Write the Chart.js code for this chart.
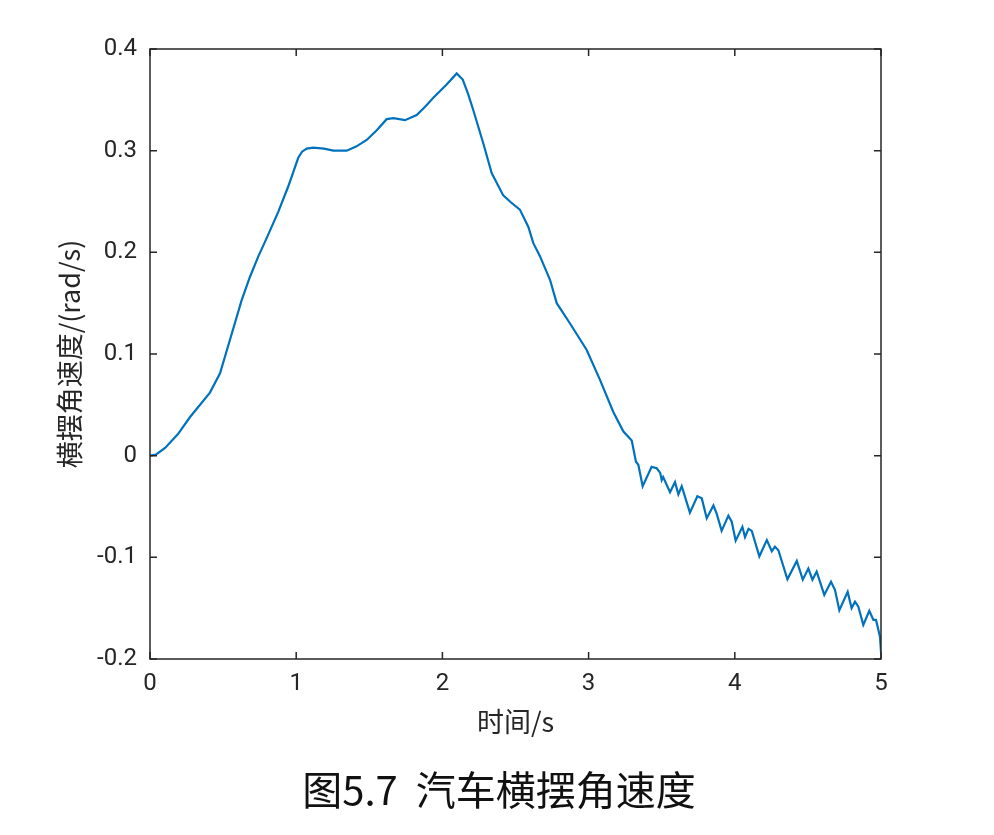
<!DOCTYPE html>
<html>
<head>
<meta charset="utf-8">
<script src="https://cdn.jsdelivr.net/npm/chart.js@4.4.1/dist/chart.umd.min.js"></script>
<style>
  html, body { margin: 0; padding: 0; background: #fff; }
  #wrap { position: relative; width: 994px; height: 835px; }
</style>
</head>
<body>
<div id="wrap"><canvas id="yawChart"></canvas></div>
<script>
// Data (time in s, yaw rate in rad/s)
const timeValues = [
  0, 0.04, 0.103, 0.19, 0.274, 0.41, 0.479, 0.547, 0.627, 0.684,
  0.741, 0.798, 0.878, 0.946, 1.014, 1.04, 1.072, 1.117, 1.19, 1.254,
  1.345, 1.41, 1.482, 1.551, 1.619, 1.665, 1.744, 1.824, 1.88, 1.938,
  2.029, 2.098, 2.139, 2.175, 2.211, 2.28, 2.337, 2.416, 2.47, 2.53,
  2.588, 2.622, 2.668, 2.736, 2.782, 2.873, 2.987, 3.078, 3.169, 3.237,
  3.295, 3.324, 3.34, 3.37, 3.431, 3.466, 3.49, 3.50, 3.51, 3.557,
  3.591, 3.614, 3.637, 3.693, 3.744, 3.774, 3.808, 3.854, 3.876, 3.91,
  3.956, 3.979, 4.006, 4.052, 4.07, 4.094, 4.116, 4.168, 4.219, 4.253,
  4.275, 4.298, 4.36, 4.424, 4.465, 4.503, 4.531, 4.56, 4.612, 4.658,
  4.685, 4.715, 4.772, 4.799, 4.822, 4.845, 4.879, 4.92, 4.948, 4.966,
  4.993, 5.0
];
const rateValues = [
  0, 0.001, 0.0076, 0.021, 0.038, 0.062, 0.081, 0.114, 0.153, 0.176,
  0.196, 0.214, 0.240, 0.265, 0.293, 0.299, 0.302, 0.303, 0.302, 0.300,
  0.300, 0.304, 0.3105, 0.320, 0.331, 0.332, 0.330, 0.335, 0.343, 0.352,
  0.365, 0.376, 0.370, 0.356, 0.340, 0.307, 0.278, 0.256, 0.249, 0.242,
  0.225, 0.209, 0.196, 0.173, 0.150, 0.130, 0.104, 0.0745, 0.043, 0.024,
  0.015, -0.006, -0.009, -0.030, -0.011, -0.0124, -0.017, -0.024, -0.021, -0.036,
  -0.026, -0.038, -0.030, -0.056, -0.040, -0.042, -0.0616, -0.049, -0.057, -0.074,
  -0.059, -0.065, -0.0836, -0.070, -0.080, -0.072, -0.074, -0.099, -0.083, -0.094,
  -0.0895, -0.093, -0.1216, -0.1036, -0.122, -0.111, -0.122, -0.114, -0.137, -0.124,
  -0.132, -0.152, -0.134, -0.150, -0.1436, -0.1485, -0.1665, -0.1525, -0.1616, -0.1616,
  -0.178, -0.193
];
const xTicks = [0, 1, 2, 3, 4, 5];
const yTicks = [-0.2, -0.1, 0, 0.1, 0.2, 0.3, 0.4];

const xTitle = '时间/s';
const yTitle = '横摆角速度/(rad/s)';
const caption = '图5.7  汽车横摆角速度';

const axisColor = '#262626';
const tickFont = { family: 'Roboto, "Noto Sans", sans-serif', size: 24 };
const cjkFont = '"Noto Sans CJK SC", "Noto Sans", sans-serif';

// Box, inward ticks, axis titles and caption
const boxPlugin = {
    id: 'matlabBox',
    afterDraw(chart) {
        const { ctx, chartArea: a, scales } = chart;
        const len = 7;
        ctx.save();
        ctx.strokeStyle = axisColor;
        ctx.lineWidth = 1.5;
        ctx.beginPath();
        xTicks.forEach(v => {
            const px = scales.x.getPixelForValue(v);
            ctx.moveTo(px, a.bottom); ctx.lineTo(px, a.bottom - len);
            ctx.moveTo(px, a.top); ctx.lineTo(px, a.top + len);
        });
        yTicks.forEach(v => {
            const py = scales.y.getPixelForValue(v);
            ctx.moveTo(a.left, py); ctx.lineTo(a.left + len, py);
            ctx.moveTo(a.right, py); ctx.lineTo(a.right - len, py);
        });
        ctx.stroke();
        ctx.strokeRect(a.left, a.top, a.right - a.left, a.bottom - a.top);

        ctx.fillStyle = axisColor;
        ctx.textAlign = 'center';
        ctx.textBaseline = 'middle';
        ctx.font = '27px ' + cjkFont;
        ctx.fillText(xTitle, (a.left + a.right) / 2, 722);

        ctx.save();
        ctx.translate(70, (a.top + a.bottom) / 2);
        ctx.rotate(-Math.PI / 2);
        ctx.fillText(yTitle, 0, 0);
        ctx.restore();

        ctx.fillStyle = '#111';
        ctx.font = '40px ' + cjkFont;
        ctx.fillText(caption, 499, 790);
        ctx.restore();
    }
};

window.addEventListener('load', function() {
    if (typeof Chart === 'undefined') {
        console.error('Chart.js not loaded');
        return;
    }
    const ctx = document.getElementById('yawChart').getContext('2d');
    new Chart(ctx, {
        type: 'line',
        data: {
            datasets: [{
                data: timeValues.map((t, i) => ({ x: t, y: rateValues[i] })),
                borderColor: '#0072BD',
                borderWidth: 2.2,
                pointRadius: 0,
                tension: 0,
                fill: false
            }]
        },
        options: {
            responsive: true,
            maintainAspectRatio: false,
            animation: false,
            layout: { padding: { left: 0, top: 49, right: 113, bottom: 0 } },
            plugins: { legend: { display: false }, tooltip: { enabled: false } },
            scales: {
                x: {
                    type: 'linear',
                    min: 0, max: 5,
                    afterFit: s => { s.height = 176; },
                    afterBuildTicks: s => { s.ticks = xTicks.map(v => ({ value: v })); },
                    ticks: { color: axisColor, font: tickFont, padding: 11, maxRotation: 0 },
                    grid: { drawOnChartArea: false, drawTicks: false },
                    border: { display: false }
                },
                y: {
                    type: 'linear',
                    min: -0.2, max: 0.4,
                    afterFit: s => { s.width = 150; },
                    afterBuildTicks: s => { s.ticks = yTicks.map(v => ({ value: v })); },
                    ticks: {
                        color: axisColor, font: tickFont, padding: 13,
                        callback: v => (Math.round(v * 10) / 10).toString()
                    },
                    grid: { drawOnChartArea: false, drawTicks: false },
                    border: { display: false }
                }
            }
        },
        plugins: [boxPlugin]
    });
});
</script>
</body>
</html>
